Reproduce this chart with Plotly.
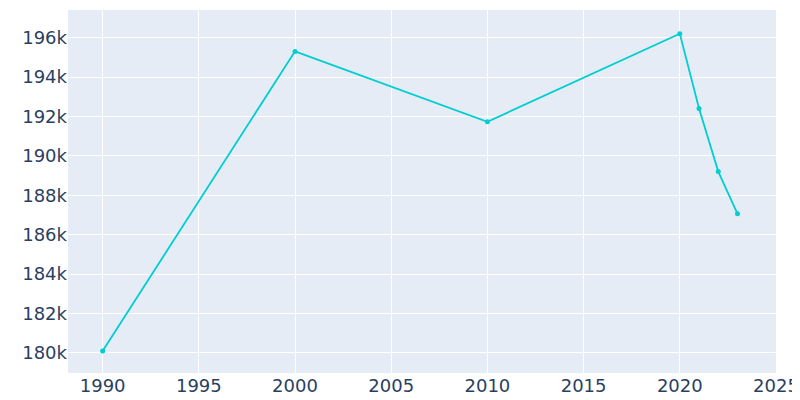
import plotly.graph_objects as go

years = [1990, 2000, 2010, 2020, 2021, 2022, 2023]
population = [180100, 195300, 191730, 196200, 192400, 189200, 187060]

fig = go.Figure()
fig.add_trace(go.Scatter(
    x=years, y=population,
    mode='lines+markers',
    line=dict(color='#00CED1', width=1.8),
    marker=dict(size=5, color='#00CED1'),
))

fig.update_layout(
    width=800, height=400,
    margin=dict(l=60, r=32, t=2, b=35, autoexpand=False),
    plot_bgcolor='#E5ECF6',
    paper_bgcolor='white',
    font=dict(family='DejaVu Sans', size=18, color='#2a3f5f'),
    showlegend=False,
    xaxis=dict(range=[1988.2, 2025], dtick=5, gridcolor='white', zeroline=False,
               ticks='', automargin=False),
    yaxis=dict(range=[178980, 197400], dtick=2000, gridcolor='white', zeroline=False,
               tickformat='~s', automargin=False),
)
fig.write_html("out.html")
